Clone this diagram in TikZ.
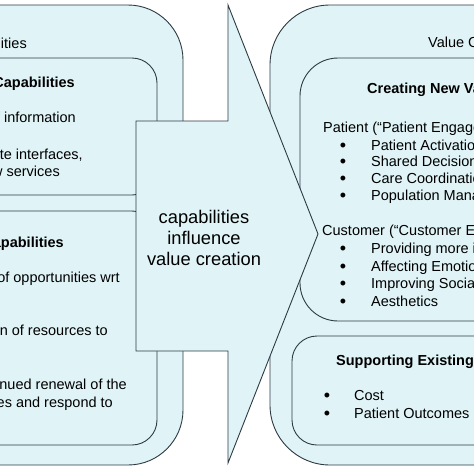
\documentclass[tikz,border=0pt]{standalone}
\usepackage{fontspec}
\setmainfont{Liberation Sans}
\usepackage{xcolor}
\definecolor{panelfill}{RGB}{224,244,248}
\definecolor{panelline}{RGB}{45,58,66}

\begin{document}
\begin{tikzpicture}
    [x=1pt,y=-1pt,
    panel/.style={fill=panelfill,draw=panelline,line width=0.9pt},
    txt/.style={inner sep=0pt,font=\fontsize{14.5}{17}\selectfont},
    head/.style={inner sep=0pt,font=\fontsize{14.5}{17}\selectfont\bfseries},
    dot/.style={inner sep=0pt,anchor=base,font=\fontsize{18}{17}\selectfont},
    bigtxt/.style={inner sep=0pt,align=center,font=\fontsize{18.3}{21}\selectfont}]
\useasboundingbox (0,0) rectangle (474,474);
\clip (0,0) rectangle (474,474);
% capability panels
\draw[panel,rounded corners=55pt] (-200,5) rectangle (183,465);
\draw[panel,rounded corners=25pt] (-200,58) rectangle (157,195);
\draw[panel,rounded corners=25pt] (-200,211) rectangle (157,445);
% value creation panels
\draw[panel,rounded corners=60pt] (270,5) rectangle (700,465);
\draw[panel,rounded corners=38pt] (300,58) rectangle (700,321);
\draw[panel,rounded corners=25pt] (292,336) rectangle (700,445);
% arrow
\draw[panel,line join=miter] (136,121) -- (228,121) -- (228,5) -- (318,234) -- (228,463) -- (228,351) -- (136,351) -- cycle;
\node[bigtxt] (arrowtext) at (204,238) {capabilities\\influence\\value creation};
% left texts
\node[txt,anchor=base east] (capleft) at (27,48) {Capabilities};
\node[head,anchor=base east] (firsthead) at (75,87) {Capabilities};
\node[txt,anchor=base east] (info) at (76,122) {of information};
\node[txt,anchor=base east] (interf) at (83,159) {create interfaces,};
\node[txt,anchor=base east] (serv) at (60,176) {new services};
\node[head,anchor=base east] (secondhead) at (64,247) {Capabilities};
\node[txt,anchor=base east] (oppo) at (120,282) {of opportunities wrt};
\node[txt,anchor=base east] (reso) at (108,335) {allocation of resources to};
\node[txt,anchor=base east] (renew) at (127,389) {continued renewal of the};
\node[txt,anchor=base east] (respond) at (113,407) {capabilities and respond to};
% right texts
\node[txt,anchor=base west] (valright) at (428,47) {Value Creation};
\node[head,anchor=base west] (newhead) at (367,93) {Creating New Value};
\node[txt,anchor=base west] (patient) at (323,132) {Patient (“Patient Engagement”)};
\node[dot] (p1dot) at (343,151) {\textbullet};
\node[txt,anchor=base west] (p1) at (371,150) {Patient Activation};
\node[dot] (p2dot) at (343,167) {\textbullet};
\node[txt,anchor=base west] (p2) at (371,166) {Shared Decision Making};
\node[dot] (p3dot) at (343,184) {\textbullet};
\node[txt,anchor=base west] (p3) at (371,183) {Care Coordination};
\node[dot] (p4dot) at (343,201) {\textbullet};
\node[txt,anchor=base west] (p4) at (371,200) {Population Management};
\node[txt,anchor=base west] (customer) at (322,235) {Customer (“Customer Experience”)};
\node[dot] (c1dot) at (343,254) {\textbullet};
\node[txt,anchor=base west] (c1) at (371,253) {Providing more information};
\node[dot] (c2dot) at (343,272) {\textbullet};
\node[txt,anchor=base west] (c2) at (371,271) {Affecting Emotions};
\node[dot] (c3dot) at (343,289) {\textbullet};
\node[txt,anchor=base west] (c3) at (371,288) {Improving Social};
\node[dot] (c4dot) at (343,307) {\textbullet};
\node[txt,anchor=base west] (c4) at (371,306) {Aesthetics};
\node[head,anchor=base west] (exhead) at (336,365) {Supporting Existing Value};
\node[dot] (s1dot) at (327,401) {\textbullet};
\node[txt,anchor=base west] (s1) at (354,400) {Cost};
\node[dot] (s2dot) at (327,419) {\textbullet};
\node[txt,anchor=base west] (s2) at (354,418) {Patient Outcomes};
\end{tikzpicture}
\end{document}
